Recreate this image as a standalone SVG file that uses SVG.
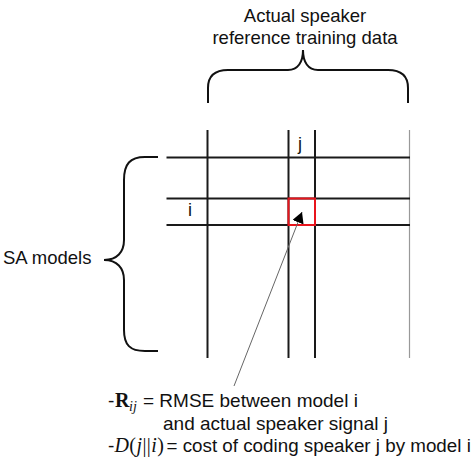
<svg xmlns="http://www.w3.org/2000/svg" width="474" height="459" viewBox="0 0 474 459">
<defs>
<style>
.t{font-family:"Liberation Sans",Arial,sans-serif;fill:#111}
.m{font-family:"Liberation Serif","Times New Roman",serif;fill:#111}
.g{stroke:#1a1a1a;stroke-width:2;fill:none}
.br{stroke:#111;stroke-width:2;fill:none}
</style>
<marker id="ah" markerUnits="userSpaceOnUse" markerWidth="12" markerHeight="12" refX="11" refY="6" orient="auto">
<path d="M0,0 L11,6 L0,12 z" fill="#000"/>
</marker>
</defs>
<rect width="474" height="459" fill="#fff"/>
<g id="top-label">
<text class="t" x="305" y="22" font-size="18.5" text-anchor="middle">Actual speaker</text>
<text class="t" x="305" y="43.5" font-size="18.5" text-anchor="middle">reference training data</text>
<path class="br" d="M208,103 L208,88 C208,76 214,70 228,70 L288,70 C298,70 303,62 303,50 C303,62 308,70 318,70 L388,70 C402,70 408,76 408,88 L408,103"/>
</g>
<g id="left-label">
<text class="t" x="3" y="263.5" font-size="18.5">SA models</text>
<path class="br" d="M158,157 L145,157 C130,157 124,164 124,180 L124,240 C124,252 117,260 104,260 C117,260 124,268 124,280 L124,330 C124,345 130,351 145,351 L158,351"/>
</g>
<g id="grid">
<line class="g" x1="207.5" y1="130" x2="207.5" y2="358"/>
<line class="g" x1="288.5" y1="130" x2="288.5" y2="358"/>
<line class="g" x1="315" y1="130" x2="315" y2="358"/>
<line x1="409.5" y1="130" x2="409.5" y2="358" stroke="#999" stroke-width="1.2"/>
<line class="g" x1="166.5" y1="157.5" x2="410" y2="157.5"/>
<line class="g" x1="166.5" y1="198.5" x2="410" y2="198.5"/>
<line class="g" x1="166.5" y1="225" x2="410" y2="225"/>
<text class="t" x="298" y="149.5" font-size="18">j</text>
<text class="t" x="188" y="216" font-size="18">i</text>
</g>
<g id="cell">
<rect x="288.5" y="198.5" width="26.5" height="26.5" fill="none" stroke="#e8141c" stroke-width="2"/>
</g>
<g id="connectors">
<line x1="234" y1="386" x2="302" y2="212" stroke="#666" stroke-width="1" marker-end="url(#ah)"/>
</g>
<g id="legend">
<text class="t" x="108" y="407" font-size="19">-</text>
<text class="m" x="115" y="407" font-size="20" font-weight="bold">R</text>
<text class="m" x="129" y="411" font-size="14" font-style="italic">ij</text>
<text class="t" x="143" y="407" font-size="19">= RMSE between model i</text>
<text class="t" x="163" y="429.5" font-size="19">and actual speaker signal j</text>
<text class="t" x="108" y="452" font-size="19">-</text>
<text class="m" x="114.5" y="452" font-size="20" letter-spacing="0.4"><tspan font-style="italic">D</tspan>(<tspan font-style="italic">j</tspan>||<tspan font-style="italic">i</tspan>)</text>
<text class="t" x="166.5" y="452" font-size="18.8">= cost of coding speaker j by model i</text>
</g>
</svg>
